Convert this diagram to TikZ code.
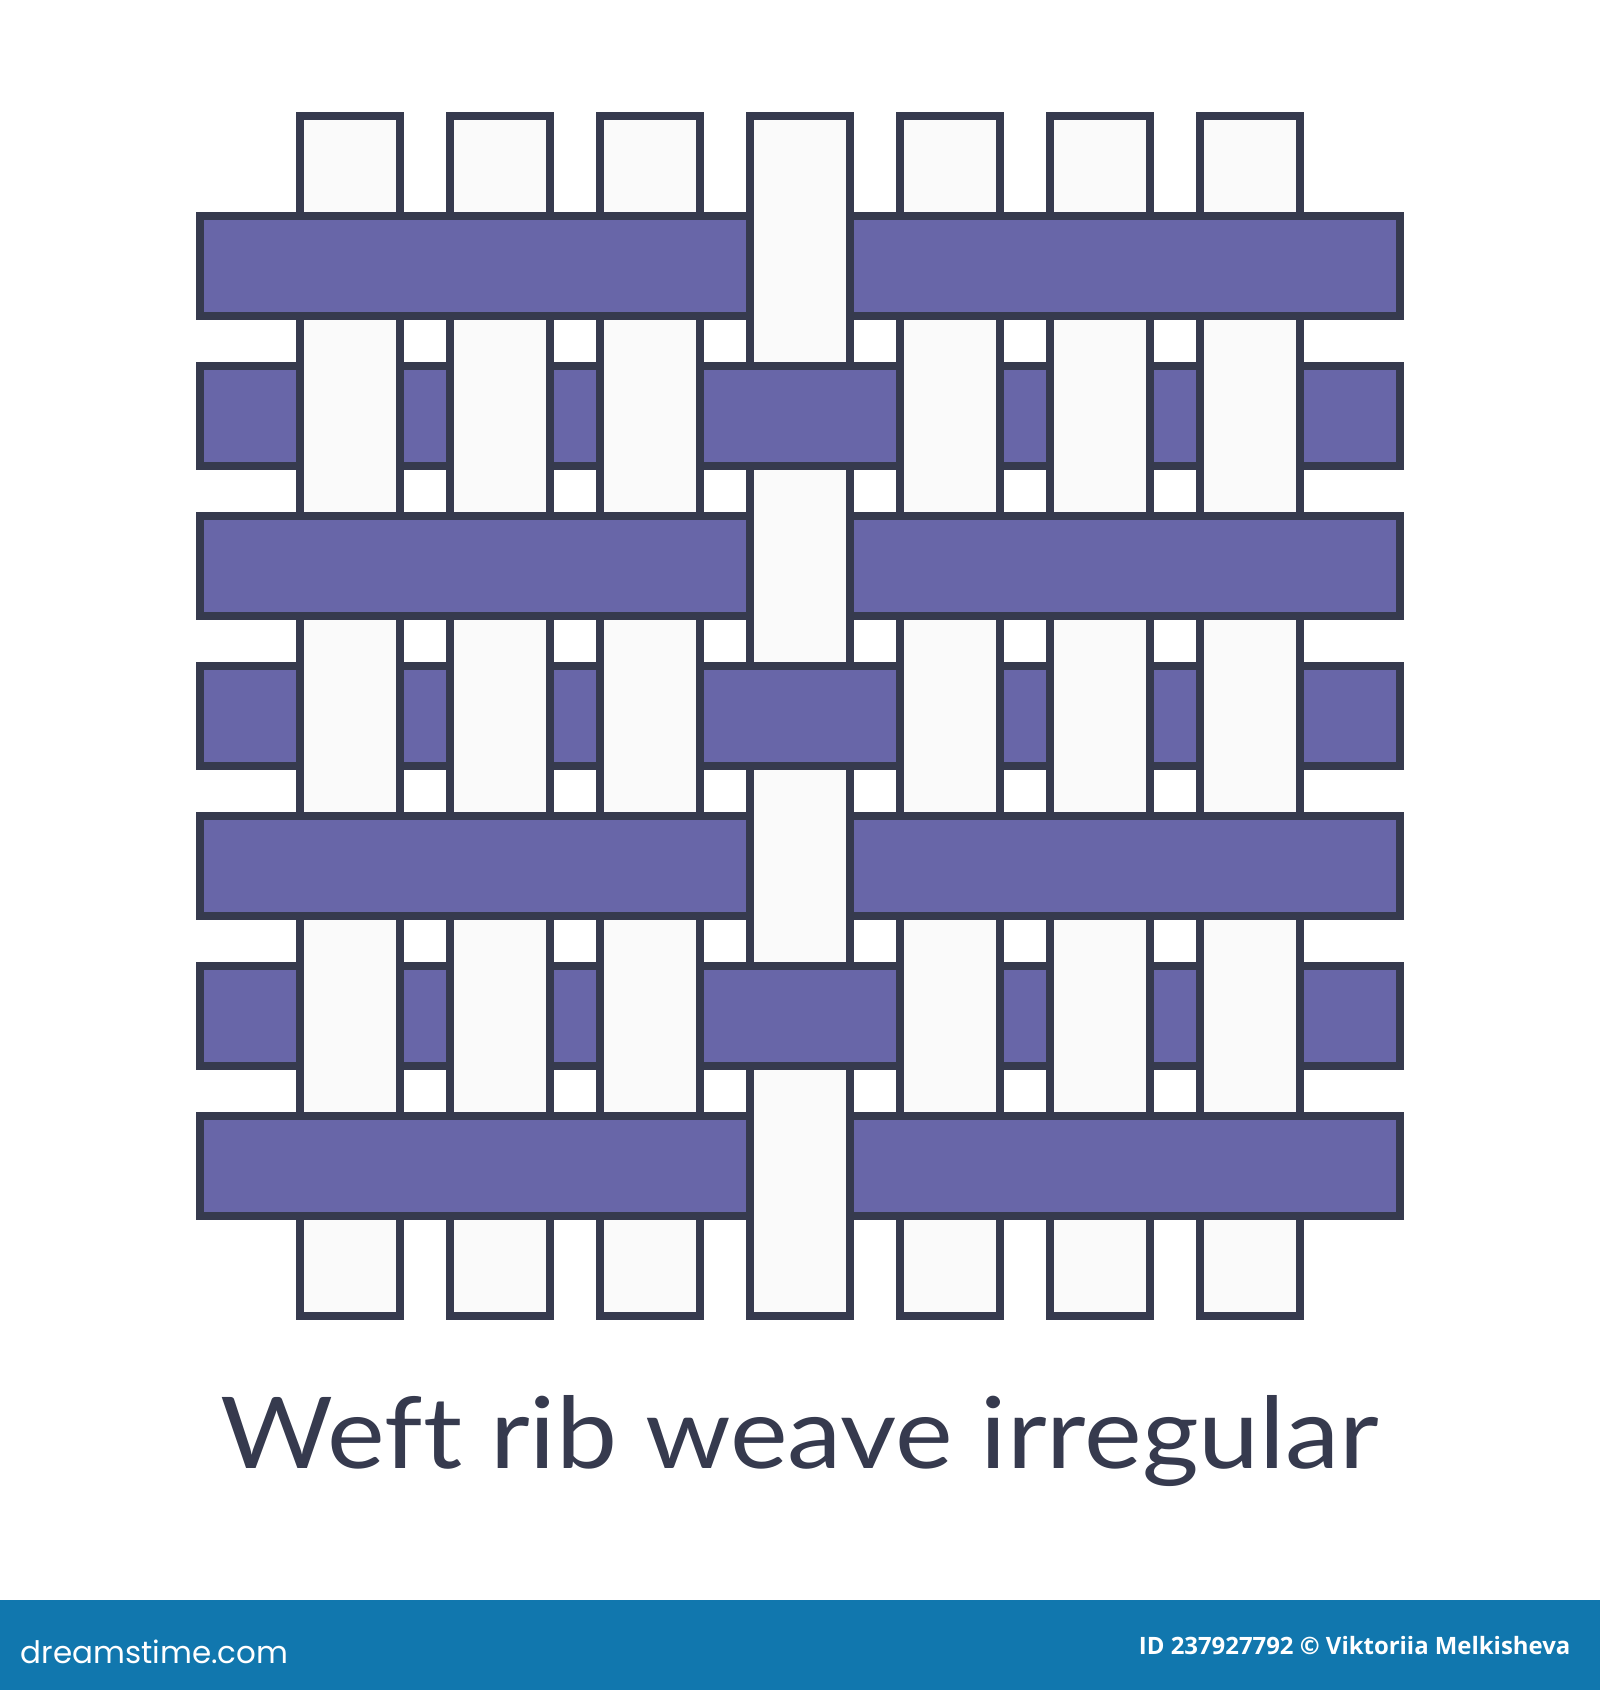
\documentclass[tikz,border=0pt]{standalone}
\usepackage{fontspec}
\newfontfamily\titlefont{Lato}[Ligatures=NoCommon, FakeStretch=1.1]
\newfontfamily\barfont{Open Sans}
\newfontfamily\logofont{Poppins}
\definecolor{threadline}{HTML}{363A4E}
\definecolor{weftblue}{HTML}{6866A8}
\definecolor{warpwhite}{HTML}{FAFAFA}
\definecolor{barblue}{HTML}{1177AE}
\begin{document}
\begin{tikzpicture}[
  x=0.01cm, y=-0.01cm,
  warp/.style={draw=threadline, fill=warpwhite, line width=0.08cm},
  weft/.style={draw=threadline, fill=weftblue, line width=0.08cm},
]
\useasboundingbox[fill=white] (0,0) rectangle (1600,1690);
\foreach \y in {366,666,966}
  \draw[weft] (200,\y) rectangle (1400,\y+100);
\foreach \x in {300,450,600,900,1050,1200}
  \draw[warp] (\x,116) rectangle (\x+100,1316);
\foreach \y in {216,516,816,1116}
  \draw[weft] (200,\y) rectangle (1400,\y+100);
\draw[warp] (750,116) rectangle (850,1316);
\foreach \y in {366,666,966}
  \draw[weft] (700,\y) rectangle (900,\y+100);
\node[anchor=base, text=threadline, font=\titlefont\fontsize{28.2}{34}\selectfont] (title) at (800,1468) {Weft rib weave irregular};
\fill[barblue] (0,1600) rectangle (1600,1690);
\node[anchor=base west, text=white, inner sep=0pt, font=\logofont\fontsize{8.8}{11}\selectfont] (logo) at (20,1663) {dreamstime.com};
\node[anchor=base east, text=white, inner sep=0pt, font=\barfont\bfseries\fontsize{6.8}{8}\selectfont] (credit) at (1571,1654) {ID 237927792 © Viktoriia Melkisheva};
\end{tikzpicture}
\end{document}
